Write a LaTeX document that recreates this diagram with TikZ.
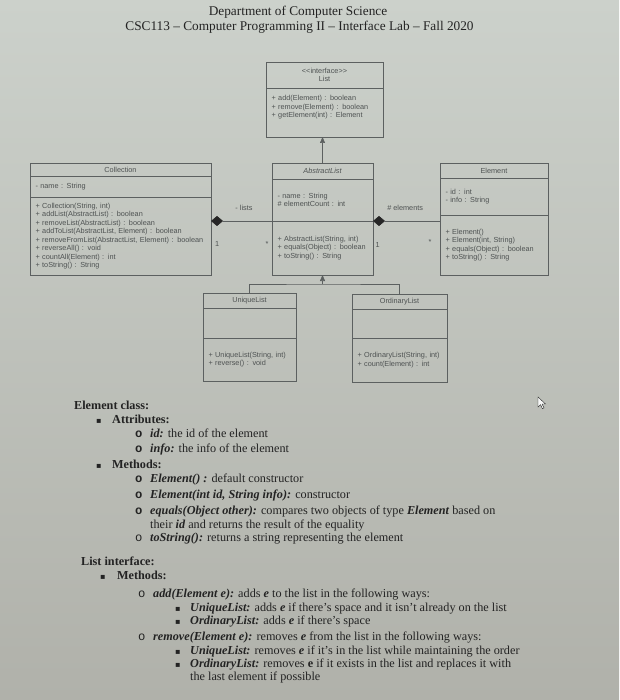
\documentclass[tikz,border=0pt]{standalone}
\usepackage{fontspec}
\setmainfont{Liberation Serif}
\setsansfont{Liberation Sans}
\newfontfamily\monofont{Liberation Mono}
\newfontfamily\symfont{DejaVu Sans}
\usetikzlibrary{positioning,arrows.meta}

\definecolor{paperTop}{RGB}{204,209,203}
\definecolor{paperBot}{RGB}{176,177,170}
\definecolor{umlline}{RGB}{92,96,96}
\definecolor{umltext}{RGB}{78,82,82}
\definecolor{ink}{RGB}{35,35,35}

\newcommand\umlfont{\sffamily\fontsize{7.3}{8.5}\selectfont}
\newcommand\bfit[1]{\textbf{\textit{#1}}}
\newcommand\sqb{{\symfont\fontsize{8}{10}\selectfont ▪}}
\newcommand\sqi[1]{\makebox[#1][l]{\sqb}}
\newcommand\oi{\makebox[15pt][l]{\monofont\bfseries o}}
\newcommand\oj{\makebox[15pt][l]{\monofont o}}

\tikzset{
  cls/.style={draw=umlline, line width=0.5pt, outer sep=0pt, inner xsep=5.5pt, inner ysep=0pt, font=\umlfont, text=umltext},
  clshead/.style={cls, align=center},
  clsbody/.style={cls, align=left},
  lbl/.style={font=\umlfont, text=umltext, inner sep=0pt},
  assoc/.style={draw=umlline, line width=0.6pt},
  comp/.style={assoc, {Diamond[length=12pt,width=10pt,color=black!85]}-},
  inherit/.style={assoc, -{Triangle[length=6pt,width=5pt]}},
  txt/.style={anchor=base west, inner sep=0pt, text=ink, font=\fontsize{12.2}{14}\selectfont},
  ttl/.style={anchor=base, inner sep=0pt, text=ink, font=\fontsize{13.3}{15}\selectfont},
}

\begin{document}
\begin{tikzpicture}[x=1pt, y=-1pt]
\shade[top color=paperTop, bottom color=paperBot] (0,0) rectangle (619,700);
\useasboundingbox (0,0) rectangle (619,700);

% heading
\node[ttl] (dept) at (298,15.7) {Department of Computer Science};
\node[ttl] (course) at (299.5,30.5) {CSC113 -- Computer Programming II -- Interface Lab -- Fall 2020};

% List interface
\node[clshead, text width=106pt, minimum height=26pt, anchor=north west] (list-h) at (266,62) {<{}<interface>{}>\\List};
\node[clsbody, text width=106pt, minimum height=49pt, below=0pt of list-h] (list-m) {+ add(Element) : boolean\\+ remove(Element) : boolean\\+ getElement(int) : Element\\[3.5pt]\mbox{}};

% Collection
\node[clshead, text width=170pt, minimum height=13pt, anchor=north west] (coll-h) at (30,163) {Collection};
\node[clsbody, text width=170pt, minimum height=21pt, below=0pt of coll-h] (coll-a) {- name : String};
\node[clsbody, text width=170pt, minimum height=78pt, below=0pt of coll-a] (coll-m) {+ Collection(String, int)\\+ addList(AbstractList) : boolean\\+ removeList(AbstractList) : boolean\\+ addToList(AbstractList, Element) : boolean\\+ removeFromList(AbstractList, Element) : boolean\\+ reverseAll() : void\\+ countAll(Element) : int\\+ toString() : String};

% AbstractList
\node[clshead, text width=90pt, minimum height=16pt, anchor=north west, font=\umlfont\itshape] (abs-h) at (272,163) {AbstractList};
\node[clsbody, text width=90pt, minimum height=42pt, below=0pt of abs-h] (abs-a) {- name : String\\\# elementCount : int};
\node[clsbody, text width=90pt, minimum height=54pt, below=0pt of abs-a] (abs-m) {+ AbstractList(String, int)\\+ equals(Object) : boolean\\+ toString() : String};

% Element
\node[clshead, text width=97pt, minimum height=15pt, anchor=north west] (el-h) at (440,163) {Element};
\node[clsbody, text width=97pt, minimum height=37pt, below=0pt of el-h] (el-a) {- id : int\\- info : String};
\node[clsbody, text width=97pt, minimum height=60pt, below=0pt of el-a] (el-m) {+ Element()\\+ Element(int, String)\\+ equals(Object) : boolean\\+ toString() : String};

% UniqueList
\node[clshead, text width=82pt, minimum height=15pt, anchor=north west] (uni-h) at (203,293) {UniqueList};
\node[clsbody, text width=82pt, minimum height=30pt, below=0pt of uni-h] (uni-a) {};
\node[clsbody, text width=82pt, minimum height=43pt, below=0pt of uni-a] (uni-m) {+ UniqueList(String, int)\\+ reverse() : void};

% OrdinaryList
\node[clshead, text width=84pt, minimum height=15pt, anchor=north west] (ord-h) at (352,294) {OrdinaryList};
\node[clsbody, text width=84pt, minimum height=29pt, below=0pt of ord-h] (ord-a) {};
\node[clsbody, text width=84pt, minimum height=44pt, below=0pt of ord-a] (ord-m) {+ OrdinaryList(String, int)\\+ count(Element) : int};

% associations
\draw[comp] (coll-m.east |- abs-m.north) -- (abs-m.north west)
  node[lbl, pos=0.54, above=10pt] (lists) {- lists}
  node[lbl, pos=0.1, below=20pt] (lists-one) {1}
  node[lbl, pos=0.92, below=20pt] (lists-many) {*};
\draw[comp] (abs-m.north east) -- (abs-m.north east -| el-m.west)
  node[lbl, pos=0.48, above=10pt] (elems) {\# elements}
  node[lbl, pos=0.07, below=21pt] (elems-one) {1}
  node[lbl, pos=0.85, below=18pt] (elems-many) {*};

% inheritance
\draw[inherit] (abs-h.north) -- (abs-h.north |- list-m.south);
\coordinate[below=9pt of abs-m.south] (fork);
\draw[assoc] (uni-h.north) |- (fork) -| (ord-h.north);
\draw[inherit] (fork) -- (abs-m.south);

% mouse pointer
\draw[ink, line width=0.4pt, fill=white!85!paperTop] (538,397) -- (538,407) -- (540.5,404.6) -- (542.4,408.6) -- (544,407.9) -- (542.1,404) -- (545.5,404) -- cycle;

% Element class notes
\node[txt] (ec) at (74,409) {\textbf{Element class:}};
\node[txt] (ec-attr) at (96,423) {\sqi{16pt}\textbf{Attributes:}};
\node[txt] (ec-id) at (135,437) {\oi\bfit{id:} the id of the element};
\node[txt] (ec-info) at (135,452.5) {\oi\bfit{info:} the info of the element};
\node[txt] (ec-meth) at (96,468) {\sqi{16pt}\textbf{Methods:}};
\node[txt] (ec-ctor) at (135,482) {\oi\bfit{Element() :} default constructor};
\node[txt] (ec-ctor2) at (135,498) {\oi\bfit{Element(int id, String info):} constructor};
\node[txt] (ec-eq) at (135,514) {\oi\bfit{equals(Object other):} compares two objects of type \bfit{Element} based on};
\node[txt] (ec-eq2) at (150,528) {their \bfit{id} and returns the result of the equality};
\node[txt] (ec-str) at (135,541) {\oj\bfit{toString():} returns a string representing the element};

% List interface notes
\node[txt] (li) at (81,565) {\textbf{List interface:}};
\node[txt] (li-meth) at (100,579) {\sqi{17pt}\textbf{Methods:}};
\node[txt] (li-add) at (138,597) {\oj\bfit{add(Element e):} adds \bfit{e} to the list in the following ways:};
\node[txt] (li-add-u) at (175,611.5) {\sqi{15pt}\bfit{UniqueList:} adds \bfit{e} if there’s space and it isn’t already on the list};
\node[txt] (li-add-o) at (175,624.5) {\sqi{15pt}\bfit{OrdinaryList:} adds \bfit{e} if there’s space};
\node[txt] (li-rem) at (138,640.5) {\oj\bfit{remove(Element e):} removes \bfit{e} from the list in the following ways:};
\node[txt] (li-rem-u) at (175,654) {\sqi{15pt}\bfit{UniqueList:} removes \bfit{e} if it’s in the list while maintaining the order};
\node[txt] (li-rem-o) at (175,667.5) {\sqi{15pt}\bfit{OrdinaryList:} removes \textbf{e} if it exists in the list and replaces it with};
\node[txt] (li-rem-o2) at (190,680) {the last element if possible};
\end{tikzpicture}
\end{document}
